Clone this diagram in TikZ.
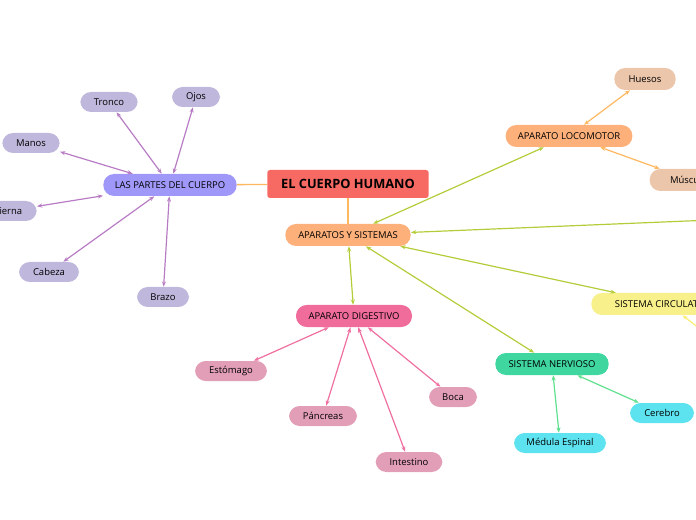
\documentclass[tikz,border=0pt]{standalone}
\usepackage{fontspec}
\setmainfont{Open Sans}
\usetikzlibrary{arrows.meta}
\definecolor{cmain}{HTML}{F76A63}
\definecolor{cpart}{HTML}{9F98F8}
\definecolor{cleaf}{HTML}{C0B8DC}
\definecolor{capar}{HTML}{FDB07A}
\definecolor{chue}{HTML}{ECC6AB}
\definecolor{ccirc}{HTML}{F8F08A}
\definecolor{cnerv}{HTML}{3FD6A0}
\definecolor{ccyan}{HTML}{5DE3F0}
\definecolor{cdig}{HTML}{F06C9B}
\definecolor{cdleaf}{HTML}{E39EB7}
\definecolor{lpurp}{HTML}{B87CC4}
\definecolor{lgreen}{HTML}{B5CC3A}
\definecolor{lorange}{HTML}{FDB860}
\definecolor{lmint}{HTML}{5EE08E}
\definecolor{lpink}{HTML}{EE6FA0}
\definecolor{lyel}{HTML}{F8EE70}
\tikzset{
 box/.style={rounded corners=8pt,minimum height=16.5pt,inner sep=0pt,font=\fontsize{7.1}{8}\selectfont,text=black},
 leaf/.style={box,minimum height=15pt},
 con/.style={line width=0.9pt,{Stealth[length=4pt]}-{Stealth[length=4pt]}}
}
\begin{document}
\begin{tikzpicture}[x=0.75pt,y=-0.75pt]
\useasboundingbox (0,0) rectangle (696,520);
\clip (0,0) rectangle (696,520);
\node[box,fill=cmain,rounded corners=2pt,minimum width=121pt,minimum height=21pt,font=\bfseries\fontsize{9.6}{11}\selectfont] (main) at (348,184) {EL CUERPO HUMANO};
\node[box,fill=cpart,minimum width=100pt] (partes) at (170,185) {LAS PARTES DEL CUERPO};
\node[leaf,fill=cleaf,minimum width=43pt] (tronco) at (109,102) {Tronco};
\node[leaf,fill=cleaf,minimum width=36pt] (ojos) at (196,97) {Ojos};
\node[leaf,fill=cleaf,minimum width=43pt] (manos) at (31,143) {Manos};
\node[leaf,fill=cleaf,minimum width=43pt] (pierna) at (8,211) {Pierna};
\node[leaf,fill=cleaf,minimum width=45pt] (cabeza) at (49,272) {Cabeza};
\node[leaf,fill=cleaf,minimum width=39pt] (brazo) at (163,297) {Brazo};
\node[box,fill=capar,minimum width=94pt] (apar) at (348,235) {APARATOS Y SISTEMAS};
\node[box,fill=capar,minimum width=95pt] (loco) at (569,136) {APARATO LOCOMOTOR};
\node[leaf,fill=chue,minimum width=46pt,minimum height=16.5pt] (huesos) at (645,79) {Huesos};
\node[leaf,fill=chue,minimum width=62pt,minimum height=16.5pt] (musc) at (691,180) {Músculos};
\node[box,fill=ccirc,minimum width=115pt] (circ) at (668,304) {SISTEMA CIRCULATORIO};
\node[box,fill=cnerv,minimum width=85pt] (nerv) at (552,364) {SISTEMA NERVIOSO};
\node[leaf,fill=ccyan,minimum width=48pt] (cere) at (662,413) {Cerebro};
\node[leaf,fill=ccyan,minimum width=69pt] (medula) at (560,443) {Médula Espinal};
\node[box,fill=cdig,minimum width=87pt] (dig) at (354,316) {APARATO DIGESTIVO};
\node[leaf,fill=cdleaf,minimum width=54pt] (esto) at (231,371) {Estómago};
\node[leaf,fill=cdleaf,minimum width=51pt] (panc) at (323,416) {Páncreas};
\node[leaf,fill=cdleaf,minimum width=50pt] (inte) at (409,462) {Intestino};
\node[leaf,fill=cdleaf,minimum width=36pt] (boca) at (453,397) {Boca};
\coordinate (offA) at (760,218);
\coordinate (offC) at (740,360);
\draw[lorange,line width=1pt] (main) -- (partes);
\draw[lorange,line width=1pt] (main) -- (apar);
\foreach \n in {tronco,ojos,manos,pierna,cabeza,brazo} \draw[con,lpurp] (partes) -- (\n);
\foreach \n in {loco,circ,nerv,dig} \draw[con,lgreen] (apar) -- (\n);
\draw[con,lgreen] (apar) -- (offA);
\draw[con,lorange] (loco) -- (huesos);
\draw[con,lorange] (loco) -- (musc);
\draw[con,lyel] (circ) -- (offC);
\draw[con,lmint] (nerv) -- (cere);
\draw[con,lmint] (nerv) -- (medula);
\foreach \n in {esto,panc,inte,boca} \draw[con,lpink] (dig) -- (\n);
\end{tikzpicture}
\end{document}
